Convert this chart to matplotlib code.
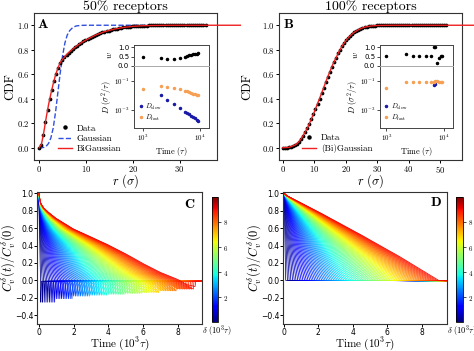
import numpy as np
import matplotlib
matplotlib.use('Agg')
import matplotlib.pyplot as plt
from matplotlib import colors
from matplotlib.cm import ScalarMappable
from matplotlib.ticker import NullLocator, ScalarFormatter

plt.rcParams['mathtext.fontset'] = 'cm'
plt.rcParams['font.family'] = 'serif'
plt.rcParams['font.serif'] = ['cmr10', 'DejaVu Serif']
plt.rcParams['axes.formatter.use_mathtext'] = True
plt.rcParams['axes.unicode_minus'] = True

# ---------------- data: panel A (50% receptors) ----------------
rA = np.round(np.arange(0, 35.6, 0.45), 2)
cdfA = [0.000, 0.022, 0.105, 0.210, 0.310, 0.395, 0.475, 0.545, 0.605, 0.655,
        0.695, 0.718, 0.740, 0.760, 0.777, 0.792, 0.806, 0.820, 0.833, 0.845,
        0.857, 0.868, 0.878, 0.888, 0.897, 0.905, 0.913, 0.921, 0.928, 0.935,
        0.941, 0.947, 0.952, 0.957, 0.962, 0.966, 0.970, 0.973, 0.976, 0.979,
        0.982, 0.984, 0.986, 0.988, 0.990, 0.991, 0.993, 0.994, 0.995, 0.996,
        0.997, 0.997, 0.998, 0.998, 0.999, 0.999] + [1.0] * 24
r_gauss_A = [0, 0.5, 1, 1.5, 2, 2.5, 3, 3.5, 4, 4.5, 5, 5.5, 6, 6.5, 7, 7.5, 8, 9, 10, 12, 20, 30, 36]
gauss_A = [0, 0.0, 0.003, 0.012, 0.035, 0.08, 0.16, 0.29, 0.45, 0.61, 0.75, 0.855, 0.92,
           0.955, 0.975, 0.988, 0.995, 0.999, 1.0, 1.0, 1.0, 1.0, 1.0]
r_bigauss_A = [0, 0.5, 1, 1.5, 2, 2.5, 3, 3.5, 4, 4.5, 5, 6, 7, 8, 9, 10, 12, 14, 16, 18,
               20, 22, 24, 26, 28, 30, 34, 38, 43]
bigauss_A = [0.0, 0.03, 0.128, 0.245, 0.35, 0.44, 0.522, 0.593, 0.65, 0.695, 0.722, 0.766,
             0.80, 0.83, 0.857, 0.88, 0.919, 0.948, 0.968, 0.982, 0.991, 0.996, 0.998,
             0.999, 1.0, 1.0, 1.0, 1.0, 1.0]

# ---------------- data: panel B (100% receptors) ----------------
rB = np.round(np.arange(0, 52.1, 0.65), 2)
cdfB = [0.000, 0.000, 0.001, 0.003, 0.007, 0.013, 0.021, 0.034, 0.051, 0.073,
        0.100, 0.130, 0.160, 0.195, 0.235, 0.275, 0.315, 0.360, 0.400, 0.445,
        0.490, 0.535, 0.580, 0.620, 0.660, 0.700, 0.735, 0.770, 0.800, 0.830,
        0.855, 0.877, 0.897, 0.915, 0.930, 0.943, 0.954, 0.964, 0.972, 0.979,
        0.984, 0.988, 0.991, 0.994, 0.996, 0.997, 0.998, 0.999, 0.999] + [1.0] * 32
r_fit_B = [0, 2, 4, 5, 6, 7, 8, 9, 10, 11, 12, 13, 14, 15, 16, 17, 18, 19, 20, 21, 22,
           23, 24, 25, 26, 28, 30, 32, 35, 40, 50, 61]
fit_B = [0, 0.0035, 0.023, 0.045, 0.079, 0.123, 0.170, 0.229, 0.290, 0.357, 0.422,
         0.490, 0.559, 0.623, 0.685, 0.738, 0.790, 0.836, 0.872, 0.903, 0.928, 0.947,
         0.963, 0.975, 0.984, 0.994, 0.998, 0.999, 1.0, 1.0, 1.0, 1.0]

# ---------------- inset data ----------------
nan = np.nan
tA = [1000, 2100, 2700, 3500, 4500, 5500, 6000, 6500, 7000, 7500, 8200, 8800, 9400]
wA = [0.49, 0.44, 0.40, 0.40, 0.44, 0.49, 0.56, 0.58, 0.60, 0.62, 0.64, 0.65, 0.67]
DfastA = [0.028, 0.047, 0.039, 0.033, 0.029, 0.022, 0.020, 0.018, 0.016, 0.014, 0.013, 0.012, 0.011]
DslowA = [nan, 0.0117, 0.0051, 0.0028, 0.0015, 7.8e-4, 6.6e-4, 5.4e-4, 4.4e-4, 3.6e-4,
          2.9e-4, 2.3e-4, 1.9e-4]
tB = [1000, 2200, 2900, 3700, 4800, 5900, 6600, 7000, 7600, 8300, 8800, 9400]
wB = [0.55, 0.65, 0.55, 0.55, 0.55, 0.55, 1.0, 1.0, 0.15, 0.45, 0.55, 0.55]
DfastB = [0.035, 0.082, 0.085, 0.085, 0.086, 0.087, 0.09, 0.10, 0.095, 0.09, 0.09, 0.09]
DslowB = [nan, nan, nan, nan, nan, nan, 0.05, 0.06, nan, nan, nan, nan]

# ---------------- panels C / D: correlation functions ----------------
deltas = np.round(np.arange(0.1, 9.01, 0.1), 1)          # delta in 10^3 tau
sC = [0, 0.005, 0.012, 0.03, 0.06, 0.11, 0.22, 0.33, 0.44, 0.56, 0.67, 0.78, 0.89, 0.95, 1.0]
fC = [1.0, 0.93, 0.88, 0.83, 0.78, 0.71, 0.59, 0.50, 0.41, 0.30, 0.19, 0.09, 0.01, -0.05]
trough_C = [-0.25, -0.21, -0.18, -0.17, -0.16, -0.15, -0.14, -0.12, -0.10, -0.07]
sD = [0, 0.02, 0.25, 0.5, 0.75, 1.0]
fD = [1.0, 0.97, 0.76, 0.52, 0.27, 0.0]
t_end = 9.5

W, H = 474, 351
fig = plt.figure(figsize=(W / 100, H / 100), dpi=100)


def box(l, t, r, b):
    return [l / W, 1 - b / H, (r - l) / W, (b - t) / H]


def ftext(x, y, s, **kw):
    kw.setdefault('ha', 'center')
    kw.setdefault('va', 'center')
    fig.text(x / W, 1 - y / H, s, **kw)


spine_col = '#333333'


def style_main(ax):
    for sp in ax.spines.values():
        sp.set_color(spine_col)
        sp.set_linewidth(0.8)
    ax.tick_params(labelsize=6.2, length=2, width=0.7, pad=1)


# ---------- Panel A ----------
axA = fig.add_axes(box(34, 13, 217, 160))
axA.plot(rA, cdfA, 'o', color='k', ms=1.7, ls='none', label='Data', zorder=3)
axA.plot(r_gauss_A, gauss_A, '--', color='#3050e0', lw=1.0, label='Gaussian', zorder=2)
axA.plot(r_bigauss_A, bigauss_A, '-', color='#ee2020', lw=1.0, label='BiGaussian',
         clip_on=False, zorder=4)
axA.set_xlim(-1.1, 38)
axA.set_ylim(-0.1, 1.1)
axA.set_xticks([0, 10, 20, 30])
axA.set_yticks([0, 0.2, 0.4, 0.6, 0.8, 1.0])
style_main(axA)
axA.legend(loc='lower left', bbox_to_anchor=((58 - 34) / 183, (160 - 153) / 147),
           frameon=False, fontsize=6.5, borderpad=0, borderaxespad=0,
           handlelength=1.5, handletextpad=0.6, labelspacing=0.2, markerscale=1.3)

# ---------- Panel B ----------
axB = fig.add_axes(box(279, 13, 462, 160))
axB.plot(rB, cdfB, 'o', color='k', ms=1.7, ls='none', label='Data', zorder=3)
axB.plot(r_fit_B, fit_B, '-', color='#ee2020', lw=1.0, label='(Bi)Gaussian',
         clip_on=False, zorder=4)
axB.set_xlim(-1.2, 57)
axB.set_ylim(-0.1, 1.1)
axB.set_xticks([0, 10, 20, 30, 40, 50])
axB.set_yticks([0, 0.2, 0.4, 0.6, 0.8, 1.0])
style_main(axB)
axB.legend(loc='lower left', bbox_to_anchor=((302 - 279) / 183, (160 - 153) / 147),
           frameon=False, fontsize=6.5, borderpad=0, borderaxespad=0,
           handlelength=1.5, handletextpad=0.6, labelspacing=0.2, markerscale=1.3)

# ---------- insets ----------
slow_col = '#1a1aa8'
fast_col = '#f5a055'


def inset(l, r, t, m, b, tt, ww, dslow, dfast, xlim):
    axw = fig.add_axes(box(l, t, r, m))
    axd = fig.add_axes(box(l, m, r, b))
    axw.plot(tt, ww, '.', color='k', ms=3.0)
    axw.set_xscale('log')
    axw.set_xlim(*xlim)
    axw.set_ylim(0, 1.12)
    axw.set_yticks([0, 0.5, 1.0])
    axw.xaxis.set_major_locator(NullLocator())
    axw.xaxis.set_minor_locator(NullLocator())
    fmt = ScalarFormatter(useMathText=False)
    axw.yaxis.set_major_formatter(fmt)
    axw.tick_params(labelsize=5, length=2, width=0.5, pad=1.5, labelfontfamily='DejaVu Sans')
    axd.plot(tt, dslow, '.', color=slow_col, ms=3.0, label=r'$D_{\rm slow}$')
    axd.plot(tt, dfast, '.', color=fast_col, ms=3.0, label=r'$D_{\rm fast}$')
    axd.set_xscale('log')
    axd.set_yscale('log')
    axd.set_xlim(*xlim)
    axd.set_ylim(6.3e-5, 1.05)
    axd.set_xticks([1e3, 1e4])
    axd.set_yticks([1e-3, 1e-1])
    axd.xaxis.set_minor_locator(NullLocator())
    axd.yaxis.set_minor_locator(NullLocator())
    axd.tick_params(labelsize=5, length=2, width=0.5, pad=1.5)
    for a in (axw, axd):
        for sp in a.spines.values():
            sp.set_color('#444444')
            sp.set_linewidth(0.7)
    axw.spines['bottom'].set_color('#aaaaaa')
    axd.spines['top'].set_color('#aaaaaa')
    axw.set_ylabel(r'$w$', fontsize=6)
    axw.yaxis.set_label_coords(-0.27, 0.5)
    axd.set_ylabel(r'$D\ (\sigma^2/\tau)$', fontsize=6)
    axd.yaxis.set_label_coords(-0.27, 0.5)
    axd.set_xlabel(r'Time $(\tau)$', fontsize=6, labelpad=1.5)
    axd.legend(loc='lower left', bbox_to_anchor=(0.06, 0.08), frameon=False, fontsize=5,
               borderpad=0, borderaxespad=0, handlelength=0.6, handletextpad=0.4,
               labelspacing=0.15, markerscale=1.0)


inset(134, 209, 45, 66, 128, tA, wA, DslowA, DfastA, (700, 14400))
inset(380, 453, 45, 66, 128, tB, wB, DslowB, DfastB, (776, 14300))

# ---------- Panels C and D ----------
cmap = plt.get_cmap('jet')
norm = colors.Normalize(vmin=0.06, vmax=10)


def style_cd(ax):
    style_main(ax)
    ax.xaxis.set_major_formatter(ScalarFormatter(useMathText=False))
    ax.yaxis.set_major_formatter(ScalarFormatter(useMathText=False))
    ax.tick_params(labelfontfamily='DejaVu Sans', labelsize=5.5, pad=0.6)


axC = fig.add_axes(box(37.3, 192.3, 202, 324))
for d in deltas:
    ts = np.concatenate([np.array(sC) * d, [d + 0.04, t_end]])
    ys = np.concatenate([fC, [trough_C[int(d)]], [-0.01, -0.005]])
    axC.plot(ts, ys, color=cmap(norm(d)), lw=0.55)
axC.set_xlim(-0.1, 9.4)
axC.set_ylim(-0.5, 1.01)
axC.set_xticks([0, 2, 4, 6, 8])
axC.set_yticks([-0.4, -0.2, 0.0, 0.2, 0.4, 0.6, 0.8, 1.0])
style_cd(axC)

axD = fig.add_axes(box(283.3, 192.3, 447.3, 324))
for d in deltas:
    ts = np.concatenate([np.array(sD) * d, [t_end]])
    ys = np.concatenate([fD, [-0.004]])
    axD.plot(ts, ys, color=cmap(norm(d)), lw=0.55)
axD.set_xlim(-0.04, 9.5)
axD.set_ylim(-0.5, 1.01)
axD.set_xticks([0, 2, 4, 6, 8])
axD.set_yticks([-0.4, -0.2, 0.0, 0.2, 0.4, 0.6, 0.8, 1.0])
style_cd(axD)

for (l, r) in [(211.7, 218.3), (456, 463)]:
    cax = fig.add_axes(box(l, 196.7, r, 321.7))
    cb = fig.colorbar(ScalarMappable(norm=norm, cmap=cmap), cax=cax)
    cb.set_ticks([2, 4, 6, 8])
    cb.ax.tick_params(labelsize=5, length=2, width=0.5, pad=1.5)
    cb.outline.set_linewidth(0.6)
    ftext((l + r) / 2 + 2, 331, r'$\delta\ (10^3\tau)$', fontsize=6)

# ---------- texts ----------
ftext(125.5, 7, '50% receptors', fontsize=10)
ftext(370.5, 7, '100% receptors', fontsize=10)
ftext(10, 87, 'CDF', fontsize=9, rotation=90)
ftext(247, 87, 'CDF', fontsize=9, rotation=90)
ftext(125.5, 181, r'$r\ (\sigma)$', fontsize=9)
ftext(370.5, 181, r'$r\ (\sigma)$', fontsize=9)
ftext(43, 24, r'$\mathbf{A}$', fontsize=10)
ftext(289, 24, r'$\mathbf{B}$', fontsize=10)
ftext(190, 204, r'$\mathbf{C}$', fontsize=10)
ftext(436, 203, r'$\mathbf{D}$', fontsize=10)
ftext(8.5, 258, r'$C_v^\delta(t)/C_v^\delta(0)$', fontsize=9, rotation=90)
ftext(254, 258, r'$C_v^\delta(t)/C_v^\delta(0)$', fontsize=9, rotation=90)
ftext(120, 343.5, r'Time $(10^3\tau)$', fontsize=8)
ftext(365, 343.5, r'Time $(10^3\tau)$', fontsize=8)

fig.savefig('out.png', dpi=100)
